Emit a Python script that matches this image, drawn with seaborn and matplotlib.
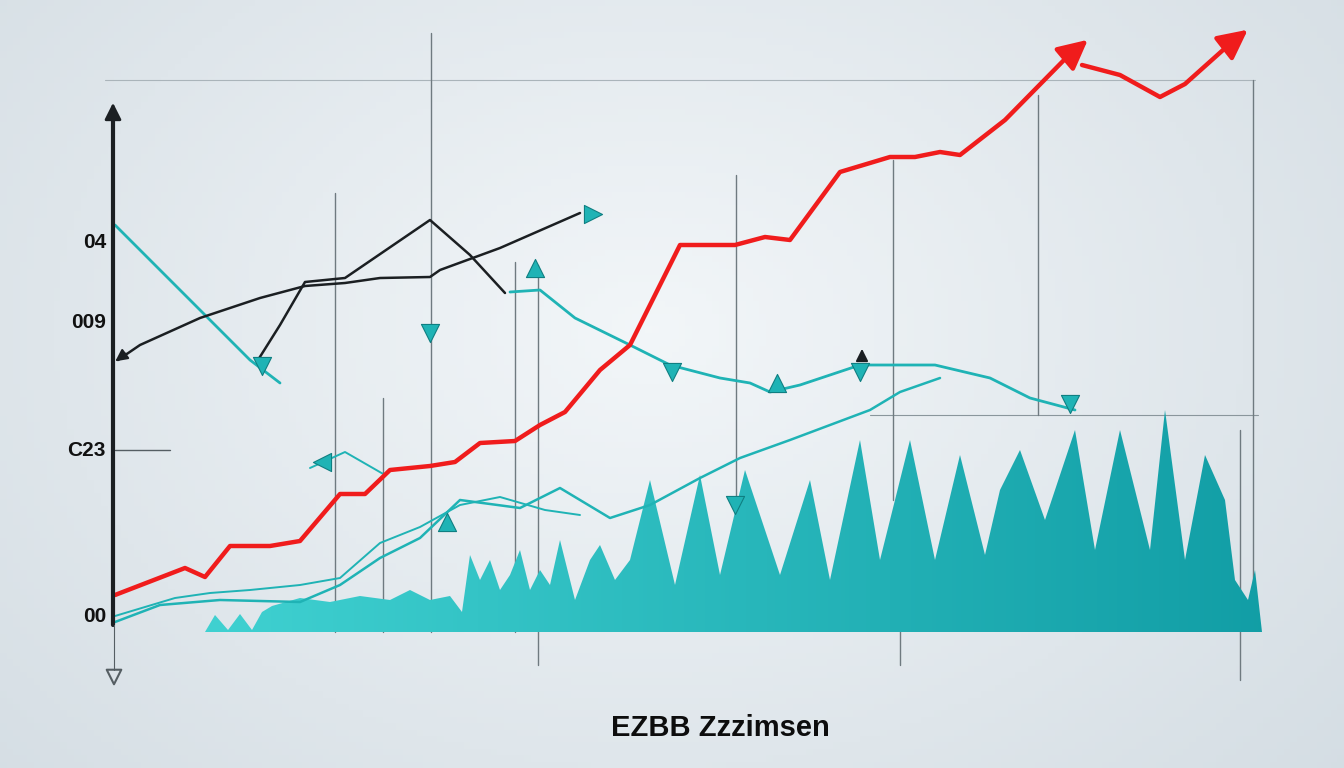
import numpy as np
import pandas as pd
import matplotlib.pyplot as plt
import seaborn as sns

sns.set_style("white")
plt.rcParams['font.family'] = ['Liberation Sans', 'DejaVu Sans']

# values (x to the right, y downwards as in the image)
red_x = [115, 185, 205, 230, 270, 300, 340, 365, 390, 430, 455, 480, 515, 540, 565, 600, 630, 680, 735, 765, 790, 840, 890, 915, 940, 960, 1005, 1066]
red_y = [595, 568, 577, 546, 546, 541, 494, 494, 470, 466, 462, 443, 441, 425, 412, 370, 345, 245, 245, 237, 240, 172, 157, 157, 152, 155, 120, 58]
red2_x = [1082, 1120, 1160, 1185, 1232]
red2_y = [65, 75, 97, 84, 42]

black1_x = [118, 140, 200, 260, 305, 345, 380, 430, 440, 500, 580]
black1_y = [360, 345, 318, 298, 286, 283, 278, 277, 270, 248, 213]
black2_x = [258, 280, 305, 345, 430, 470, 505]
black2_y = [360, 325, 282, 278, 220, 255, 293]

teal1_x = [115, 180, 250, 280]
teal1_y = [225, 290, 360, 383]
teal2_x = [510, 540, 575, 630, 670, 720, 750, 770, 800, 860, 935, 990, 1030, 1075]
teal2_y = [292, 290, 318, 345, 365, 378, 383, 392, 385, 365, 365, 378, 398, 410]
teal3_x = [115, 160, 220, 300, 340, 380, 420, 460, 520, 560, 610, 650, 700, 740, 790, 830, 870, 900, 940]
teal3_y = [622, 605, 600, 602, 585, 558, 538, 500, 508, 488, 518, 505, 478, 458, 440, 425, 410, 392, 378]
teal4_x = [115, 175, 210, 250, 300, 340, 380, 420, 460, 500, 545, 580]
teal4_y = [616, 598, 593, 590, 585, 578, 543, 527, 505, 497, 510, 515]
teal5_x = [310, 345, 385]
teal5_y = [468, 452, 475]

area_x = [205, 215, 228, 240, 252, 262, 272, 300, 330, 360, 390, 410, 430, 450, 462, 470, 480, 490, 500, 510, 520, 530, 540, 550, 560, 575, 590, 600, 615, 630, 650, 675, 700, 720, 745, 780, 810, 830, 860, 880, 910, 935, 960, 985, 1000, 1020, 1045, 1075, 1095, 1120, 1150, 1165, 1185, 1205, 1225, 1235, 1248, 1255, 1262]
area_y = [632, 615, 630, 614, 630, 612, 606, 598, 602, 596, 600, 590, 600, 596, 612, 555, 580, 560, 590, 575, 550, 590, 570, 585, 540, 600, 560, 545, 580, 560, 480, 585, 475, 575, 470, 575, 480, 580, 440, 560, 440, 560, 455, 555, 490, 450, 520, 430, 550, 430, 550, 410, 560, 455, 500, 580, 600, 570, 632]

vline_x = [335, 383, 431, 515, 538, 736, 893, 1038, 1240, 1253, 900]
vline_top = [193, 398, 33, 262, 265, 175, 160, 95, 430, 80, 630]
vline_bot = [632, 632, 632, 632, 665, 500, 500, 415, 680, 630, 665]

tick_labels = ["04", "009", "C23", "00"]
tick_y = [242, 323, 450, 617]

tri_x = [262, 430, 535, 593, 672, 777, 860, 1070, 322, 447, 735]
tri_y = [366, 333, 268, 214, 372, 383, 372, 404, 462, 522, 505]
tri_m = ['v', 'v', '^', '>', 'v', '^', 'v', 'v', '<', '^', 'v']

red = '#f01c1c'
teal = '#1fb3b5'
black = '#1b1f22'

fig = plt.figure(figsize=(13.44, 7.68), dpi=100)
ax = fig.add_axes([0, 0, 1, 1])
ax.set_xlim(0, 1344)
ax.set_ylim(768, 0)
ax.axis('off')

# background soft radial gradient
gx, gy = np.meshgrid(np.linspace(0, 1344, 200), np.linspace(0, 768, 120))
r = np.sqrt(((gx - 650) / 950) ** 2 + ((gy - 330) / 700) ** 2)
c0 = np.array([0.95, 0.965, 0.975])
c1 = np.array([0.83, 0.865, 0.89])
t = np.clip(r, 0, 1)[..., None]
ax.imshow(c0 * (1 - t) + c1 * t, extent=[0, 1344, 768, 0], aspect='auto', zorder=0)

# grid lines
ax.plot([105, 1255], [80, 80], color='#aab4ba', lw=0.8, zorder=1)
ax.plot([870, 1258], [415, 415], color='#8a969c', lw=0.8, zorder=1)
ax.plot([115, 170], [450, 450], color='#555e63', lw=1.0, zorder=1)
for x, a, b in zip(vline_x, vline_top, vline_bot):
    ax.plot([x, x], [a, b], color='#6f7a80', lw=1.0, zorder=2)

# spiky teal area with gradient fill
poly = ax.fill_between(area_x, area_y, 632, color='none', zorder=3)
grad = np.linspace(0, 1, 256)[None, :, None]
ca = np.array([0.25, 0.82, 0.82])
cb = np.array([0.07, 0.62, 0.65])
im = ax.imshow(ca * (1 - grad) + cb * grad, extent=[205, 1262, 632, 400], aspect='auto', zorder=3)
im.set_clip_path(poly.get_paths()[0], transform=ax.transData)
ax.set_xlim(0, 1344)
ax.set_ylim(768, 0)

# teal lines
for xs, ys, w in [(teal1_x, teal1_y, 2), (teal2_x, teal2_y, 2), (teal3_x, teal3_y, 1.8),
                  (teal4_x, teal4_y, 1.4), (teal5_x, teal5_y, 1.4)]:
    sns.lineplot(x=xs, y=ys, sort=False, color=teal, lw=w, ax=ax, zorder=4)

# black lines
sns.lineplot(x=black1_x, y=black1_y, sort=False, color=black, lw=1.8, ax=ax, zorder=5)
sns.lineplot(x=black2_x, y=black2_y, sort=False, color=black, lw=1.8, ax=ax, zorder=5)

# red line
sns.lineplot(x=red_x, y=red_y, sort=False, color=red, lw=3.2, ax=ax, zorder=6)
sns.lineplot(x=red2_x, y=red2_y, sort=False, color=red, lw=3.2, ax=ax, zorder=6)
ax.annotate('', xy=(1090, 38), xytext=(red_x[-1], red_y[-1]),
            arrowprops=dict(arrowstyle='-|>', color=red, lw=3.2, mutation_scale=45), zorder=7)
ax.annotate('', xy=(1250, 28), xytext=(red2_x[-1], red2_y[-1]),
            arrowprops=dict(arrowstyle='-|>', color=red, lw=3.2, mutation_scale=45), zorder=7)

# triangles
for x, y, m in zip(tri_x, tri_y, tri_m):
    ax.scatter([x], [y], marker=m, s=170, color=teal, edgecolor='#0f7f82', lw=0.8, zorder=7)

# left axis
ax.plot([113, 113], [625, 115], color=black, lw=3, zorder=8)
ax.annotate('', xy=(113, 100), xytext=(113, 125),
            arrowprops=dict(arrowstyle='-|>', color=black, lw=2, mutation_scale=25), zorder=8)
ax.plot([114, 114], [625, 670], color='#555e63', lw=0.8, zorder=8)
ax.scatter([114], [677], marker='v', s=110, facecolor='none', edgecolor='#555e63', lw=1.5, zorder=8)
ax.annotate('', xy=(113, 363), xytext=(128, 352),
            arrowprops=dict(arrowstyle='-|>', color=black, lw=1.5, mutation_scale=18), zorder=8)
ax.annotate('', xy=(862, 346), xytext=(862, 362),
            arrowprops=dict(arrowstyle='-|>', color=black, lw=1.5, mutation_scale=18), zorder=8)

for lab, y in zip(tick_labels, tick_y):
    ax.text(106, y, lab, ha='right', va='center', fontsize=15, fontweight='bold',
            color='#111111', zorder=9)

ax.text(720, 728, "EZBB Zzzimsen", ha='center', va='center', fontsize=21,
        fontweight='bold', color='#0d0d0d', zorder=9)

fig.savefig('out.png', dpi=100)
